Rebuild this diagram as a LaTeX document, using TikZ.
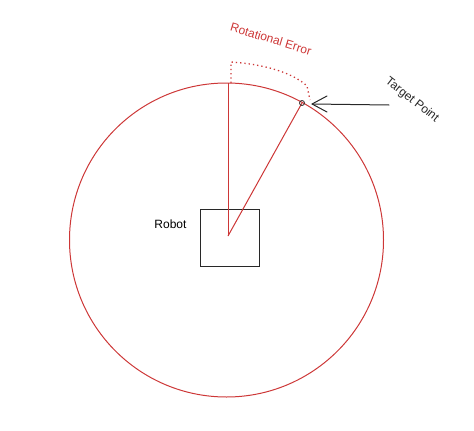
\documentclass[tikz,border=0pt]{standalone}
\usepackage{fontspec}
\setmainfont{Liberation Sans}
\definecolor{sred}{RGB}{205,55,55}
\definecolor{sdark}{RGB}{40,40,40}
\begin{document}
\begin{tikzpicture}[x=1pt,y=-1pt,
  redline/.style={draw=sred,line width=1pt},
  darkline/.style={draw=sdark,line width=1pt},
  lbl/.style={font=\fontsize{12}{14}\selectfont},
  dotline/.style={draw=sred,line width=1.3pt,dash pattern=on 1.3pt off 3pt}]
\useasboundingbox (0,0) rectangle (474,431);
% big circle
\coordinate (c) at (226.5,240);
\draw[redline] (c) circle[radius=157];
% robot
\node[darkline,draw,minimum width=59pt,minimum height=57pt,inner sep=0pt] (robot) at (229.5,237.5) {};
\coordinate (rc) at (228,236);
\node[lbl,anchor=east] (robotlbl) at (190,224) {Robot};
% lines
\coordinate (top) at (228,83);
\coordinate (tgt) at (302,103);
\draw[redline] (rc) -- (top);
\draw[redline] (rc) -- (tgt);
\node[draw=sdark,circle,line width=0.8pt,minimum size=5pt,inner sep=0pt] (tp) at (tgt) {};
% dotted arc
\coordinate (d1) at (231,83);
\coordinate (d2) at (231,62);
\coordinate (d3) at (307,86);
\coordinate (d4) at (310,100);
\draw[dotline] (d1) -- (d2) .. controls (262,64) and (292,72) .. (d3) -- (d4);
% labels
\node[lbl,text=sred,rotate=-17] (rotlbl) at (271,39) {Rotational Error};
\node[lbl,text=sdark,rotate=-38] (tgtlbl) at (412,100) {Target Point};
% arrow
\coordinate (as) at (389,105);
\coordinate (tip) at (312,104);
\coordinate (b1) at (327,96);
\coordinate (b2) at (327,112);
\draw[darkline,line cap=round,line join=round] (as) -- (tip);
\draw[darkline,line cap=round,line join=round] (b1) -- (tip) -- (b2);
\end{tikzpicture}
\end{document}
